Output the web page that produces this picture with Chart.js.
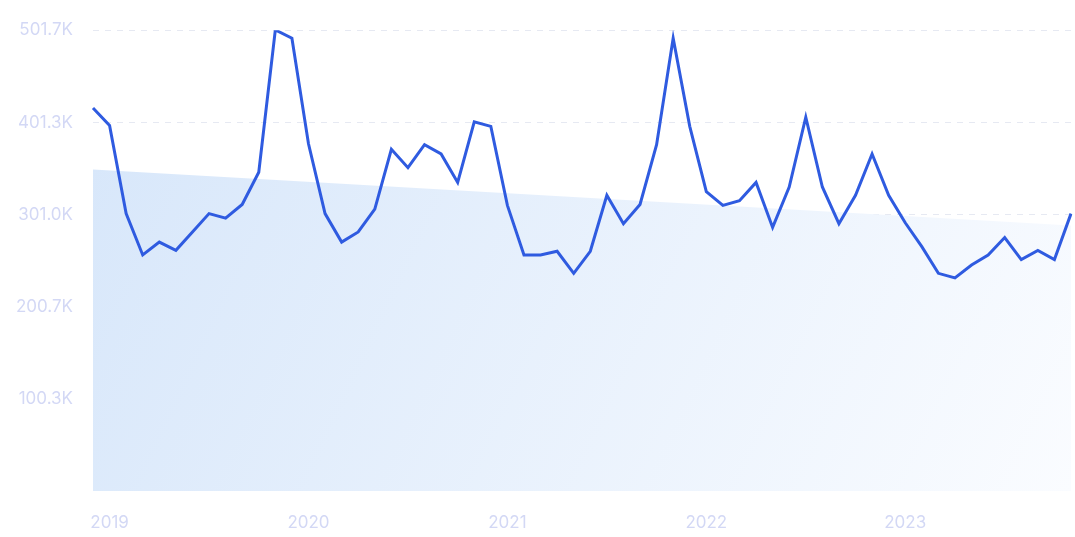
<!DOCTYPE html>
<html><head><meta charset="utf-8">
<script src="https://cdn.jsdelivr.net/npm/chart.js@4"></script>
<style>html,body{margin:0;padding:0;background:#fff}#w{width:1075px;height:537px}</style>
</head><body><div id="w"><canvas id="c"></canvas></div>
<script>
const months = [];
for (let y = 2018; y <= 2023; y++) for (let m = 1; m <= 12; m++) months.push(y + '-' + String(m).padStart(2, '0'));
const categories = months.slice(11, 71); // 2018-12 .. 2023-11
const values = [417,398,302,257,271,262,282,302,297,312,347,502,493,378,302,271,282,307,372,352,377,367,336,402,397,311,257,257,261,237,261,322,291,312,377,493,397,326,311,316,336,287,331,407,331,291,322,367,322,292,266,237,232,246,257,276,252,262,252,302];
const trendStart = 350, trendEnd = 289;
const yTicks = [100.3, 200.7, 301, 401.3, 501.7];
const trendData = categories.map((c, i) => i === 0 ? trendStart : (i === categories.length - 1 ? trendEnd : null));

new Chart(document.getElementById('c'), {
  type: 'line',
  data: {
    labels: categories,
    datasets: [
      {
        data: values, borderColor: '#2f5be0', borderWidth: 3, pointRadius: 0,
        tension: 0, fill: false, order: 0
      },
      {
        data: trendData, spanGaps: true, borderWidth: 0, pointRadius: 0, fill: 'origin', order: 1,
        backgroundColor: (ctx) => {
          const a = ctx.chart.chartArea;
          if (!a) return 'rgba(210,228,248,0.8)';
          const g = ctx.chart.ctx.createLinearGradient(a.left, a.top, a.right, a.bottom);
          g.addColorStop(0, 'rgba(214,230,250,1)');
          g.addColorStop(1, 'rgba(250,252,255,1)');
          return g;
        }
      }
    ]
  },
  options: {
    responsive: true, maintainAspectRatio: false, animation: false,
    layout: { padding: { top: -6, right: 4, left: 0, bottom: 0 } },
    plugins: { legend: { display: false }, tooltip: { enabled: false } },
    scales: {
      x: {
        type: 'category', offset: false,
        grid: { display: false }, border: { display: false },
        afterFit: s => { s.height = 46; },
        ticks: {
          autoSkip: false, maxRotation: 0, color: '#d3d8f5',
          font: { family: 'Inter', size: 17 }, padding: 14,
          callback: function (v, i) { const l = categories[i]; return l.endsWith('-01') ? l.slice(0, 4) : null; }
        }
      },
      y: {
        min: 0, max: 501.7,
        afterFit: s => { s.width = 93; },
        afterBuildTicks: s => { s.ticks = [{value: 0}].concat(yTicks.map(v => ({value: v}))); },
        grid: { color: (c) => c.tick.value === 0 ? 'rgba(0,0,0,0)' : '#e6e9f2', lineWidth: 1, drawTicks: false },
        border: { display: false, dash: [6, 6] },
        ticks: {
          color: '#d3d8f5', font: { family: 'Inter', size: 17 }, padding: 20,
          callback: v => v === 0 ? '' : v.toFixed(1) + 'K'
        }
      }
    }
  }
});
</script></body></html>
